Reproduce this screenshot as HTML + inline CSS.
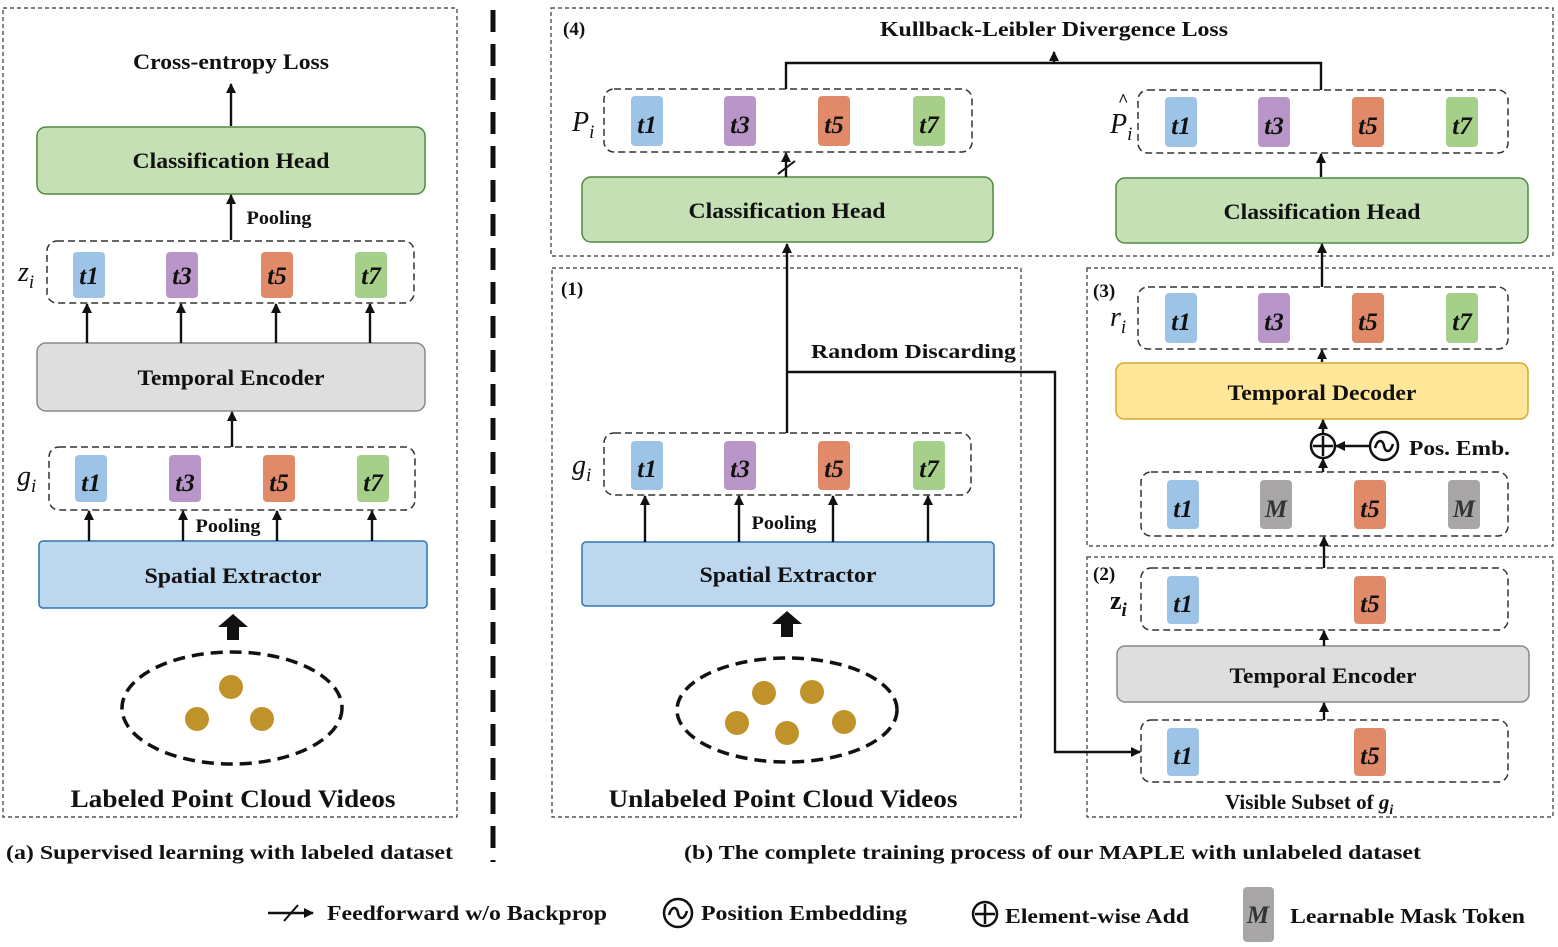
<!DOCTYPE html>
<html><head><meta charset="utf-8"><style>
body{margin:0;background:#fff}
svg{display:block}
text{font-family:"Liberation Serif",serif;font-weight:bold;fill:#111}
.tk{font-style:italic;font-size:25px;text-anchor:middle}
.ttl{font-size:22px;text-anchor:middle}
.lab{font-style:italic;font-weight:normal;font-size:28px}
</style></head><body>
<svg width="1558" height="947" viewBox="0 0 1558 947" xmlns="http://www.w3.org/2000/svg">
<defs>
<marker id="ah" markerWidth="10" markerHeight="10" refX="9" refY="5" orient="auto" markerUnits="userSpaceOnUse"><path d="M0,0 L10,5 L0,10 z" fill="#111"/></marker>
</defs>
<g fill="none" stroke="#333" stroke-width="1.2" stroke-dasharray="4,3">
<rect x="3" y="8" width="454" height="809"/>
<rect x="551" y="8" width="1002" height="248"/>
<rect x="552" y="268" width="469" height="549"/>
<rect x="1087" y="268" width="466" height="278"/>
<rect x="1087" y="557" width="466" height="260"/>
</g>
<line x1="493" y1="10" x2="493" y2="862" stroke="#111" stroke-width="5" stroke-dasharray="22,12"/>
<g fill="none" stroke="#333" stroke-width="1.5" stroke-dasharray="7,4">
<rect x="47" y="241" width="367" height="62" rx="10"/>
<rect x="49" y="447" width="366" height="63" rx="10"/>
<rect x="604" y="89" width="368" height="63" rx="10"/>
<rect x="1138" y="90" width="370" height="63" rx="10"/>
<rect x="604" y="433" width="367" height="62" rx="10"/>
<rect x="1138" y="287" width="370" height="62" rx="10"/>
<rect x="1141" y="472" width="367" height="64" rx="10"/>
<rect x="1141" y="568" width="367" height="62" rx="10"/>
<rect x="1141" y="720" width="367" height="62" rx="10"/>
</g>
<g stroke-width="1.5">
<rect x="37" y="127" width="388" height="67" rx="9" fill="#c5e0b4" stroke="#4e8a3e"/>
<rect x="37" y="343" width="388" height="68" rx="9" fill="#dedede" stroke="#888"/>
<rect x="39" y="541" width="388" height="67" rx="4" fill="#bdd7ee" stroke="#2e75b6"/>
<rect x="582" y="177" width="411" height="65" rx="9" fill="#c5e0b4" stroke="#4e8a3e"/>
<rect x="1116" y="178" width="412" height="65" rx="9" fill="#c5e0b4" stroke="#4e8a3e"/>
<rect x="582" y="542" width="412" height="64" rx="4" fill="#bdd7ee" stroke="#2e75b6"/>
<rect x="1116" y="363" width="412" height="56" rx="8" fill="#ffe699" stroke="#d6a82c"/>
<rect x="1117" y="646" width="412" height="56" rx="8" fill="#dedede" stroke="#888"/>
</g>
<g lengthAdjust="spacingAndGlyphs">
<text class="ttl" x="231" y="168" textLength="197" lengthAdjust="spacingAndGlyphs">Classification Head</text>
<text class="ttl" x="231" y="385" textLength="187" lengthAdjust="spacingAndGlyphs">Temporal Encoder</text>
<text class="ttl" x="233" y="583" textLength="177" lengthAdjust="spacingAndGlyphs">Spatial Extractor</text>
<text class="ttl" x="787" y="218" textLength="197" lengthAdjust="spacingAndGlyphs">Classification Head</text>
<text class="ttl" x="1322" y="219" textLength="197" lengthAdjust="spacingAndGlyphs">Classification Head</text>
<text class="ttl" x="788" y="582" textLength="177" lengthAdjust="spacingAndGlyphs">Spatial Extractor</text>
<text class="ttl" x="1322" y="400" textLength="189" lengthAdjust="spacingAndGlyphs">Temporal Decoder</text>
<text class="ttl" x="1323" y="683" textLength="187" lengthAdjust="spacingAndGlyphs">Temporal Encoder</text>
</g>
<g>
<rect x="73" y="252" width="32" height="46" rx="4" fill="#9dc3e6"/><text class="tk" x="89" y="284">t1</text>
<rect x="166" y="252" width="32" height="46" rx="4" fill="#b996c8"/><text class="tk" x="182" y="284">t3</text>
<rect x="261" y="252" width="32" height="46" rx="4" fill="#e08a6a"/><text class="tk" x="277" y="284">t5</text>
<rect x="355" y="252" width="32" height="46" rx="4" fill="#a6d08a"/><text class="tk" x="371" y="284">t7</text>
<rect x="75" y="455" width="32" height="47" rx="4" fill="#9dc3e6"/><text class="tk" x="91" y="491">t1</text>
<rect x="169" y="455" width="32" height="47" rx="4" fill="#b996c8"/><text class="tk" x="185" y="491">t3</text>
<rect x="263" y="455" width="32" height="47" rx="4" fill="#e08a6a"/><text class="tk" x="279" y="491">t5</text>
<rect x="357" y="455" width="32" height="47" rx="4" fill="#a6d08a"/><text class="tk" x="373" y="491">t7</text>
<rect x="631" y="96" width="32" height="50" rx="4" fill="#9dc3e6"/><text class="tk" x="647" y="133">t1</text>
<rect x="724" y="96" width="32" height="50" rx="4" fill="#b996c8"/><text class="tk" x="740" y="133">t3</text>
<rect x="818" y="96" width="32" height="50" rx="4" fill="#e08a6a"/><text class="tk" x="834" y="133">t5</text>
<rect x="913" y="96" width="32" height="50" rx="4" fill="#a6d08a"/><text class="tk" x="929" y="133">t7</text>
<rect x="1165" y="97" width="32" height="50" rx="4" fill="#9dc3e6"/><text class="tk" x="1181" y="134">t1</text>
<rect x="1258" y="97" width="32" height="50" rx="4" fill="#b996c8"/><text class="tk" x="1274" y="134">t3</text>
<rect x="1352" y="97" width="32" height="50" rx="4" fill="#e08a6a"/><text class="tk" x="1368" y="134">t5</text>
<rect x="1446" y="97" width="32" height="50" rx="4" fill="#a6d08a"/><text class="tk" x="1462" y="134">t7</text>
<rect x="631" y="441" width="32" height="49" rx="4" fill="#9dc3e6"/><text class="tk" x="647" y="477">t1</text>
<rect x="724" y="441" width="32" height="49" rx="4" fill="#b996c8"/><text class="tk" x="740" y="477">t3</text>
<rect x="818" y="441" width="32" height="49" rx="4" fill="#e08a6a"/><text class="tk" x="834" y="477">t5</text>
<rect x="913" y="441" width="32" height="49" rx="4" fill="#a6d08a"/><text class="tk" x="929" y="477">t7</text>
<rect x="1165" y="293" width="32" height="50" rx="4" fill="#9dc3e6"/><text class="tk" x="1181" y="330">t1</text>
<rect x="1258" y="293" width="32" height="50" rx="4" fill="#b996c8"/><text class="tk" x="1274" y="330">t3</text>
<rect x="1352" y="293" width="32" height="50" rx="4" fill="#e08a6a"/><text class="tk" x="1368" y="330">t5</text>
<rect x="1446" y="293" width="32" height="50" rx="4" fill="#a6d08a"/><text class="tk" x="1462" y="330">t7</text>
<rect x="1167" y="480" width="32" height="49" rx="4" fill="#9dc3e6"/><text class="tk" x="1183" y="517">t1</text>
<rect x="1260" y="480" width="32" height="49" rx="4" fill="#a8a6a6"/><text class="tk" x="1276" y="517" style="fill:#333">M</text>
<rect x="1354" y="480" width="32" height="49" rx="4" fill="#e08a6a"/><text class="tk" x="1370" y="517">t5</text>
<rect x="1448" y="480" width="32" height="49" rx="4" fill="#a8a6a6"/><text class="tk" x="1464" y="517" style="fill:#333">M</text>
<rect x="1167" y="576" width="32" height="48" rx="4" fill="#9dc3e6"/><text class="tk" x="1183" y="612">t1</text>
<rect x="1354" y="576" width="32" height="48" rx="4" fill="#e08a6a"/><text class="tk" x="1370" y="612">t5</text>
<rect x="1167" y="728" width="32" height="48" rx="4" fill="#9dc3e6"/><text class="tk" x="1183" y="764">t1</text>
<rect x="1354" y="728" width="32" height="48" rx="4" fill="#e08a6a"/><text class="tk" x="1370" y="764">t5</text>
</g>
<g stroke="#111" stroke-width="2.4" fill="none" marker-end="url(#ah)">
<line x1="231" y1="126" x2="231" y2="84"/>
<line x1="231" y1="240" x2="231" y2="195"/>
<line x1="87" y1="343" x2="87" y2="304"/>
<line x1="181" y1="343" x2="181" y2="304"/>
<line x1="276" y1="343" x2="276" y2="304"/>
<line x1="370" y1="343" x2="370" y2="304"/>
<line x1="232" y1="447" x2="232" y2="412"/>
<line x1="89" y1="541" x2="89" y2="511"/>
<line x1="183" y1="541" x2="183" y2="511"/>
<line x1="277" y1="541" x2="277" y2="511"/>
<line x1="372" y1="541" x2="372" y2="511"/>
<line x1="1054" y1="63" x2="1054" y2="52"/>
<line x1="786" y1="177" x2="786" y2="153"/>
<line x1="1321" y1="177" x2="1321" y2="154"/>
<line x1="787" y1="433" x2="787" y2="244"/>
<line x1="645" y1="542" x2="645" y2="496"/>
<line x1="739" y1="542" x2="739" y2="496"/>
<line x1="833" y1="542" x2="833" y2="496"/>
<line x1="928" y1="542" x2="928" y2="496"/>
<line x1="1322" y1="287" x2="1322" y2="244"/>
<line x1="1322" y1="362" x2="1322" y2="350"/>
<line x1="1323" y1="434" x2="1323" y2="420"/>
<line x1="1323" y1="472" x2="1323" y2="459"/>
<line x1="1370" y1="446" x2="1336" y2="446"/>
<line x1="1324" y1="568" x2="1324" y2="537"/>
<line x1="1324" y1="646" x2="1324" y2="631"/>
<line x1="1324" y1="720" x2="1324" y2="703"/>
<polyline points="787,372 1055,372 1055,752 1140,752"/>
<line x1="268" y1="913" x2="313" y2="913"/>
</g>
<polyline points="786,89 786,63 1321,63 1321,90" fill="none" stroke="#111" stroke-width="2.4"/>
<line x1="778" y1="174" x2="795" y2="161" stroke="#111" stroke-width="2"/>
<line x1="284" y1="921" x2="298" y2="905" stroke="#111" stroke-width="2"/>
<path d="M233,614 L218,627 L227,627 L227,640 L239,640 L239,627 L248,627 Z" fill="#111"/>
<path d="M787,611 L772,624 L781,624 L781,637 L793,637 L793,624 L802,624 Z" fill="#111"/>
<ellipse cx="232" cy="708" rx="110" ry="56" fill="none" stroke="#111" stroke-width="3.5" stroke-dasharray="12,7"/>
<ellipse cx="787" cy="710" rx="110" ry="52" fill="none" stroke="#111" stroke-width="3.5" stroke-dasharray="12,7"/>
<g fill="#c0922a">
<circle cx="231" cy="687" r="12"/><circle cx="197" cy="719" r="12"/><circle cx="262" cy="719" r="12"/>
<circle cx="764" cy="693" r="12"/><circle cx="812" cy="692" r="12"/><circle cx="737" cy="723" r="12"/><circle cx="787" cy="733" r="12"/><circle cx="844" cy="722" r="12"/>
</g>
<g fill="none" stroke="#111" stroke-width="2.5">
<circle cx="1323" cy="446" r="12"/><path d="M1313,446 H1333 M1323,436 V456"/>
<circle cx="1384" cy="446" r="14"/><path d="M1375,448 C1378,438 1383,440 1384,446 C1385,452 1390,454 1393,444"/>
<circle cx="678" cy="913" r="14"/><path d="M669,915 C672,905 677,907 678,913 C679,919 684,921 687,911"/>
<circle cx="985" cy="914" r="12"/><path d="M975,914 H995 M985,904 V924"/>
</g>
<rect x="1243" y="887" width="31" height="55" rx="4" fill="#a8a6a6"/><text class="tk" x="1258" y="923" style="fill:#333">M</text>
<text x="231" y="69" font-size="22" text-anchor="middle" textLength="196" lengthAdjust="spacingAndGlyphs">Cross-entropy Loss</text>
<text x="279" y="224" font-size="19" text-anchor="middle" textLength="65" lengthAdjust="spacingAndGlyphs">Pooling</text>
<text x="228" y="532" font-size="19" text-anchor="middle" textLength="65" lengthAdjust="spacingAndGlyphs">Pooling</text>
<text x="784" y="529" font-size="19" text-anchor="middle" textLength="65" lengthAdjust="spacingAndGlyphs">Pooling</text>
<text x="233" y="807" font-size="25" text-anchor="middle" textLength="325" lengthAdjust="spacingAndGlyphs">Labeled Point Cloud Videos</text>
<text x="783" y="807" font-size="25" text-anchor="middle" textLength="349" lengthAdjust="spacingAndGlyphs">Unlabeled Point Cloud Videos</text>
<text x="1225" y="809" font-size="21">Visible Subset of <tspan font-style="italic">g</tspan><tspan font-style="italic" font-size="14" dy="5">i</tspan></text>
<text x="6" y="859" font-size="20" textLength="447" lengthAdjust="spacingAndGlyphs">(a) Supervised learning with labeled dataset</text>
<text x="684" y="859" font-size="20" textLength="737" lengthAdjust="spacingAndGlyphs">(b) The complete training process of our MAPLE with unlabeled dataset</text>
<text x="880" y="36" font-size="21" textLength="348" lengthAdjust="spacingAndGlyphs">Kullback-Leibler Divergence Loss</text>
<text x="563" y="35" font-size="19">(4)</text>
<text x="561" y="295" font-size="19">(1)</text>
<text x="1093" y="297" font-size="19">(3)</text>
<text x="1093" y="580" font-size="19">(2)</text>
<text x="811" y="358" font-size="20" textLength="205" lengthAdjust="spacingAndGlyphs">Random Discarding</text>
<text x="1409" y="455" font-size="21" textLength="101" lengthAdjust="spacingAndGlyphs">Pos. Emb.</text>
<text x="327" y="920" font-size="21" textLength="280" lengthAdjust="spacingAndGlyphs">Feedforward w/o Backprop</text>
<text x="701" y="920" font-size="21" textLength="206" lengthAdjust="spacingAndGlyphs">Position Embedding</text>
<text x="1005" y="923" font-size="21" textLength="184" lengthAdjust="spacingAndGlyphs">Element-wise Add</text>
<text x="1290" y="923" font-size="21" textLength="235" lengthAdjust="spacingAndGlyphs">Learnable Mask Token</text>
<text class="lab" x="18" y="281">z<tspan font-size="19" dy="7">i</tspan></text>
<text class="lab" x="17" y="485">g<tspan font-size="19" dy="7">i</tspan></text>
<text class="lab" x="572" y="131">P<tspan font-size="19" dy="7">i</tspan></text>
<text class="lab" x="1110" y="133">P<tspan font-size="19" dy="7">i</tspan></text>
<text x="1118" y="106" font-size="18" font-weight="normal">^</text>
<text class="lab" x="572" y="474">g<tspan font-size="19" dy="7">i</tspan></text>
<text class="lab" x="1110" y="326">r<tspan font-size="19" dy="7">i</tspan></text>
<text x="1110" y="609" font-size="26" font-weight="normal">z<tspan font-size="19" font-style="italic" dy="7">i</tspan></text>
</svg>
</body></html>
